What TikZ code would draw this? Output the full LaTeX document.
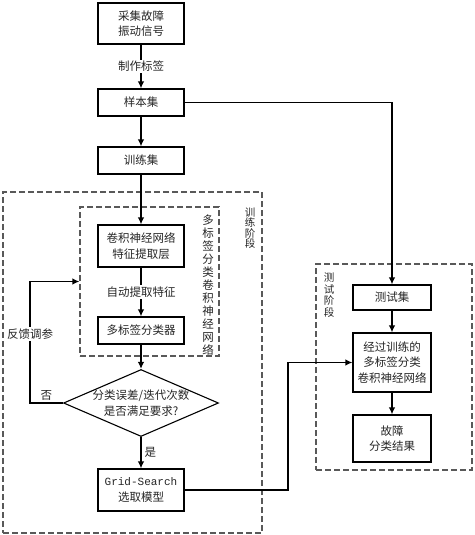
\documentclass[tikz,border=0pt]{standalone}
\usepackage{fontspec}
\setmainfont{Noto Sans CJK SC}
\setmonofont{Liberation Mono}
\usetikzlibrary{shapes.geometric,arrows.meta}
\begin{document}
\begin{tikzpicture}[x=1pt,y=-1pt,
  box/.style={draw=black,line width=1.1pt,fill=white,minimum width=86pt,inner sep=0pt,align=center,font=\fontsize{11.5}{15.5}\selectfont,text=black!85},
  arr/.style={line width=1.4pt,-{Latex[length=7pt,width=6.5pt]}},
  zone/.style={draw=black!65,line width=1.1pt,dash pattern=on 6pt off 3pt,inner sep=0pt},
  lab/.style={fill=white,inner sep=1.5pt,font=\fontsize{11.5}{13}\selectfont,text=black!85},
  vlab/.style={align=center,inner sep=0pt,text=black!85}]
\useasboundingbox (0,0) rectangle (474,535);
% zones
\node[zone,minimum width=259pt,minimum height=341pt] (train) at (132.5,362.5) {};
\node[zone,minimum width=139pt,minimum height=149pt] (cnn) at (149.5,281.5) {};
\node[zone,minimum width=156pt,minimum height=206pt] (test) at (394,367) {};
\node[vlab,font=\fontsize{10.5}{10.5}\selectfont] (trainlab) at (250,228) {训\\练\\阶\\段};
\node[vlab,font=\fontsize{11.5}{13}\selectfont] (cnnlab) at (208,285) {多\\标\\签\\分\\类\\卷\\积\\神\\经\\网\\络};
\node[vlab,font=\fontsize{10.5}{11.5}\selectfont] (testlab) at (329,295) {测\\试\\阶\\段};
% left column
\node[box,minimum height=41pt] (b1) at (141,23.5) {采集故障\\振动信号};
\node[box,minimum height=27pt] (b2) at (141,102.5) {样本集};
\node[box,minimum height=27pt] (b3) at (141,160.5) {训练集};
\node[box,minimum height=42pt] (b4) at (141,246) {卷积神经网络\\特征提取层};
\node[box,minimum height=27pt] (b5) at (141,330.5) {多标签分类器};
\node[draw=black,line width=1.1pt,shape=diamond,minimum width=155pt,minimum height=67pt,inner sep=0pt] (d) at (141,403) {};
\node[align=center,inner sep=0pt,font=\fontsize{11.5}{15.5}\selectfont,text=black!85] (dt) at (d) {分类误差/迭代次数\\是否满足要求?};
\node[box,minimum height=42pt] (b6) at (141,490) {{\ttfamily\fontsize{11}{15.5}\selectfont Grid-Search}\\选取模型};
% right column
\node[box,minimum width=78pt,minimum height=25pt] (t1) at (392,297.5) {测试集};
\node[box,minimum width=78pt,minimum height=59pt] (t2) at (392,362.5) {经过训练的\\多标签分类\\卷积神经网络};
\node[box,minimum width=78pt,minimum height=47pt] (t3) at (392,438.5) {故障\\分类结果};
% connectors
\draw[arr] (b1) -- node[lab] {制作标签} (b2);
\draw[arr] (b2) -- (b3);
\draw[arr] (b3) -- (b4);
\draw[arr] (b4) -- node[lab] {自动提取特征} (b5);
\draw[arr] (b5) -- (d);
\draw[arr] (d) -- node[right,font=\fontsize{11.5}{13}\selectfont,text=black!85,inner sep=3pt] {是} (b6);
\coordinate (fbx) at (30,403);
\draw[arr] (d.west) -- node[above,font=\fontsize{11.5}{13}\selectfont,text=black!85,pos=0.5,inner sep=2pt] {否} (fbx) -- node[lab,pos=0.57] {反馈调参} (fbx |- cnn.west) -- (cnn.west);
\draw[arr] (b2.east) -| (t1.north);
\coordinate (gx) at (288,362.5);
\draw[arr] (b6.east) -| (gx) -- (t2.west);
\draw[arr] (t1) -- (t2);
\draw[arr] (t2) -- (t3);
\end{tikzpicture}
\end{document}
